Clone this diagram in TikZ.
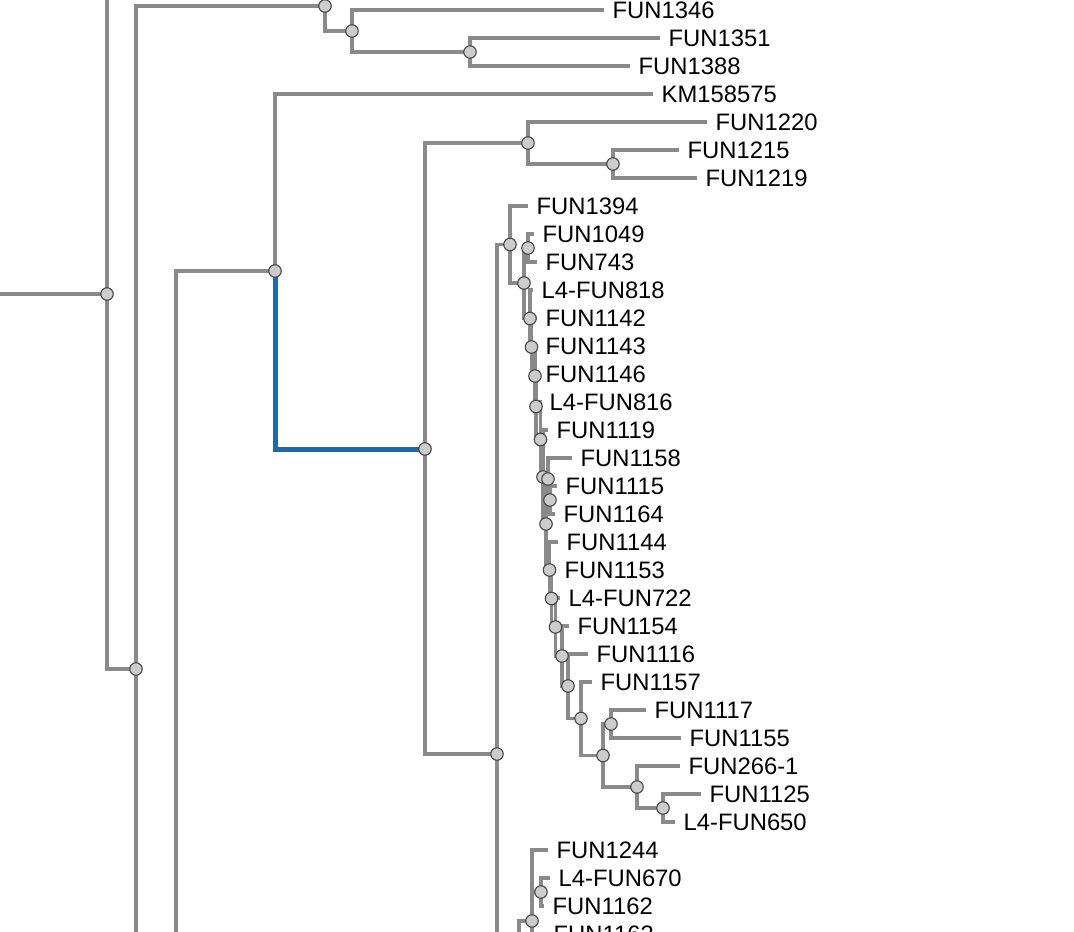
\documentclass[tikz,border=0pt]{standalone}
\usepackage{fontspec}
\setmainfont{Liberation Sans}
\definecolor{edgegray}{RGB}{138,138,138}
\definecolor{selblue}{RGB}{31,104,170}
\definecolor{dotfill}{RGB}{204,204,204}
\definecolor{dotline}{RGB}{70,70,70}
\begin{document}
\begin{tikzpicture}[x=1pt,y=-1pt,
  br/.style={draw=edgegray,line width=3.5pt},
  hl/.style={draw=selblue,line width=5pt},
  dot/.style={circle,draw=dotline,fill=dotfill,line width=1.1pt,minimum size=12.5pt,inner sep=0pt},
  lab/.style={anchor=west,inner sep=0pt,xshift=8.5pt,font=\fontsize{23.8}{28}\selectfont}]
\useasboundingbox (0,0) rectangle (1074,932);
\clip (0,0) rectangle (1074,932);
% ---------- internal positions ----------
\coordinate (in0) at (0,294);
\coordinate (r0) at (107,294);
\coordinate (r0up) at (107,-81);
\coordinate (r1) at (136,669);
\coordinate (r1low) at (136,1333);
\coordinate (t0) at (325,6);
\coordinate (t0up) at (325,-19);
\coordinate (t1) at (352,31);
\coordinate (t2) at (470,52);
\coordinate (k0) at (176,1100);
\coordinate (k1) at (275,271);
\coordinate (k2) at (425,449);
\coordinate (a1) at (528,143);
\coordinate (a2) at (613,164);
\coordinate (b0) at (497,754);
\coordinate (b0low) at (497,1264);
\coordinate (na) at (510,244.5);
\coordinate (nb) at (524,283);
\coordinate (nc) at (528,248);
\coordinate (nd) at (530,318.5);
\coordinate (ne) at (531.5,347);
\coordinate (nf) at (535,376);
\coordinate (ng) at (536,406.5);
\coordinate (nh) at (540.5,439.5);
\coordinate (ni) at (543,477);
\coordinate (nj) at (546,524);
\coordinate (nk) at (548,479);
\coordinate (nm) at (550,500);
\coordinate (nl) at (549.5,570);
\coordinate (nn) at (551.5,598.5);
\coordinate (no) at (555.5,627);
\coordinate (np) at (562,656);
\coordinate (nq) at (568,686);
\coordinate (nr) at (581,718.5);
\coordinate (ns) at (603,755.5);
\coordinate (nt) at (611,724);
\coordinate (nu) at (637,787);
\coordinate (nv) at (663,808);
\coordinate (c0) at (519,1000);
\coordinate (c1) at (532,921);
\coordinate (c1low) at (532,990);
\coordinate (c2) at (541,892);
\coordinate (c3) at (537,1000);
% ---------- leaf ends ----------
\coordinate (lA) at (604,10);
\coordinate (lB) at (660,38);
\coordinate (lC) at (630,66);
\coordinate (lD) at (653,94);
\coordinate (lE) at (707,122);
\coordinate (lF) at (679,150);
\coordinate (lG) at (697,178);
\coordinate (lH) at (528,206);
\coordinate (lI) at (534,234);
\coordinate (lJ) at (537,262);
\coordinate (lK) at (533,290);
\coordinate (lL) at (537,318);
\coordinate (lM) at (537,346);
\coordinate (lN) at (537,374);
\coordinate (lO) at (541,402);
\coordinate (lP) at (548,430);
\coordinate (lQ) at (572,458);
\coordinate (lR) at (557,486);
\coordinate (lS) at (555,514);
\coordinate (lT) at (558,542);
\coordinate (lU) at (556,570);
\coordinate (lV) at (560,598);
\coordinate (lW) at (569,626);
\coordinate (lX) at (588,654);
\coordinate (lY) at (592,682);
\coordinate (lZ) at (646,710);
\coordinate (lAA) at (681,738);
\coordinate (lAB) at (680,766);
\coordinate (lAC) at (701,794);
\coordinate (lAD) at (675,822);
\coordinate (lAE) at (548,850);
\coordinate (lAF) at (550,878);
\coordinate (lAG) at (544,906);
\coordinate (lAH) at (545,934);
% ---------- branches ----------
\draw[br] (r0) -- (in0);
\draw[br] (r0) |- (r0up);
\draw[br] (r0) |- (r1);
\draw[br] (r1) |- (t0);
\draw[br] (r1) |- (r1low);
\draw[br] (t0) |- (t0up);
\draw[br] (t0) |- (t1);
\draw[br] (t1) |- (lA);
\draw[br] (t1) |- (t2);
\draw[br] (t2) |- (lB);
\draw[br] (t2) |- (lC);
\draw[br] (k0) |- (k1);
\draw[br] (k1) |- (lD);
\draw[br] (k2) |- (a1);
\draw[br] (k2) |- (b0);
\draw[br] (a1) |- (lE);
\draw[br] (a1) |- (a2);
\draw[br] (a2) |- (lF);
\draw[br] (a2) |- (lG);
\draw[br] (b0) |- (na);
\draw[br] (b0) |- (b0low);
\draw[br] (na) |- (lH);
\draw[br] (na) |- (nb);
\draw[br] (nb) |- (nc);
\draw[br] (nb) |- (nd);
\draw[br] (nc) |- (lI);
\draw[br] (nc) |- (lJ);
\draw[br] (nd) |- (lK);
\draw[br] (nd) |- (ne);
\draw[br] (ne) |- (lL);
\draw[br] (ne) |- (nf);
\draw[br] (nf) |- (lM);
\draw[br] (nf) |- (ng);
\draw[br] (ng) |- (lN);
\draw[br] (ng) |- (nh);
\draw[br] (nh) |- (lO);
\draw[br] (nh) |- (ni);
\draw[br] (ni) |- (lP);
\draw[br] (ni) |- (nj);
\draw[br] (nj) |- (nk);
\draw[br] (nj) |- (nl);
\draw[br] (nk) |- (lQ);
\draw[br] (nk) |- (nm);
\draw[br] (nm) |- (lR);
\draw[br] (nm) |- (lS);
\draw[br] (nl) |- (lT);
\draw[br] (nl) |- (nn);
\draw[br] (nn) |- (lU);
\draw[br] (nn) |- (no);
\draw[br] (no) |- (lV);
\draw[br] (no) |- (np);
\draw[br] (np) |- (lW);
\draw[br] (np) |- (nq);
\draw[br] (nq) |- (lX);
\draw[br] (nq) |- (nr);
\draw[br] (nr) |- (lY);
\draw[br] (nr) |- (ns);
\draw[br] (ns) |- (nt);
\draw[br] (ns) |- (nu);
\draw[br] (nt) |- (lZ);
\draw[br] (nt) |- (lAA);
\draw[br] (nu) |- (lAB);
\draw[br] (nu) |- (nv);
\draw[br] (nv) |- (lAC);
\draw[br] (nv) |- (lAD);
\draw[br] (c0) |- (c1);
\draw[br] (c1) |- (lAE);
\draw[br] (c1) |- (c2);
\draw[br] (c1) |- (c1low);
\draw[br] (c2) |- (lAF);
\draw[br] (c2) |- (lAG);
\draw[br] (c3) |- (lAH);
\draw[hl] (k1) |- (k2);
% ---------- node dots ----------
\foreach \p in {r0,r1,t0,t1,t2,k1,k2,a1,a2,b0,na,nc,nb,nd,ne,nf,ng,nh,ni,nj,nk,nm,nl,nn,no,np,nq,nr,nt,ns,nu,nv,c2,c1}
  \node[dot] (d\p) at (\p) {};
% ---------- labels ----------
\node[lab] (tA) at (lA) {FUN1346};
\node[lab] (tB) at (lB) {FUN1351};
\node[lab] (tC) at (lC) {FUN1388};
\node[lab] (tD) at (lD) {KM158575};
\node[lab] (tE) at (lE) {FUN1220};
\node[lab] (tF) at (lF) {FUN1215};
\node[lab] (tG) at (lG) {FUN1219};
\node[lab] (tH) at (lH) {FUN1394};
\node[lab] (tI) at (lI) {FUN1049};
\node[lab] (tJ) at (lJ) {FUN743};
\node[lab] (tK) at (lK) {L4-FUN818};
\node[lab] (tL) at (lL) {FUN1142};
\node[lab] (tM) at (lM) {FUN1143};
\node[lab] (tN) at (lN) {FUN1146};
\node[lab] (tO) at (lO) {L4-FUN816};
\node[lab] (tP) at (lP) {FUN1119};
\node[lab] (tQ) at (lQ) {FUN1158};
\node[lab] (tR) at (lR) {FUN1115};
\node[lab] (tS) at (lS) {FUN1164};
\node[lab] (tT) at (lT) {FUN1144};
\node[lab] (tU) at (lU) {FUN1153};
\node[lab] (tV) at (lV) {L4-FUN722};
\node[lab] (tW) at (lW) {FUN1154};
\node[lab] (tX) at (lX) {FUN1116};
\node[lab] (tY) at (lY) {FUN1157};
\node[lab] (tZ) at (lZ) {FUN1117};
\node[lab] (tAA) at (lAA) {FUN1155};
\node[lab] (tAB) at (lAB) {FUN266-1};
\node[lab] (tAC) at (lAC) {FUN1125};
\node[lab] (tAD) at (lAD) {L4-FUN650};
\node[lab] (tAE) at (lAE) {FUN1244};
\node[lab] (tAF) at (lAF) {L4-FUN670};
\node[lab] (tAG) at (lAG) {FUN1162};
\node[lab] (tAH) at (lAH) {FUN1163};
\end{tikzpicture}
\end{document}
